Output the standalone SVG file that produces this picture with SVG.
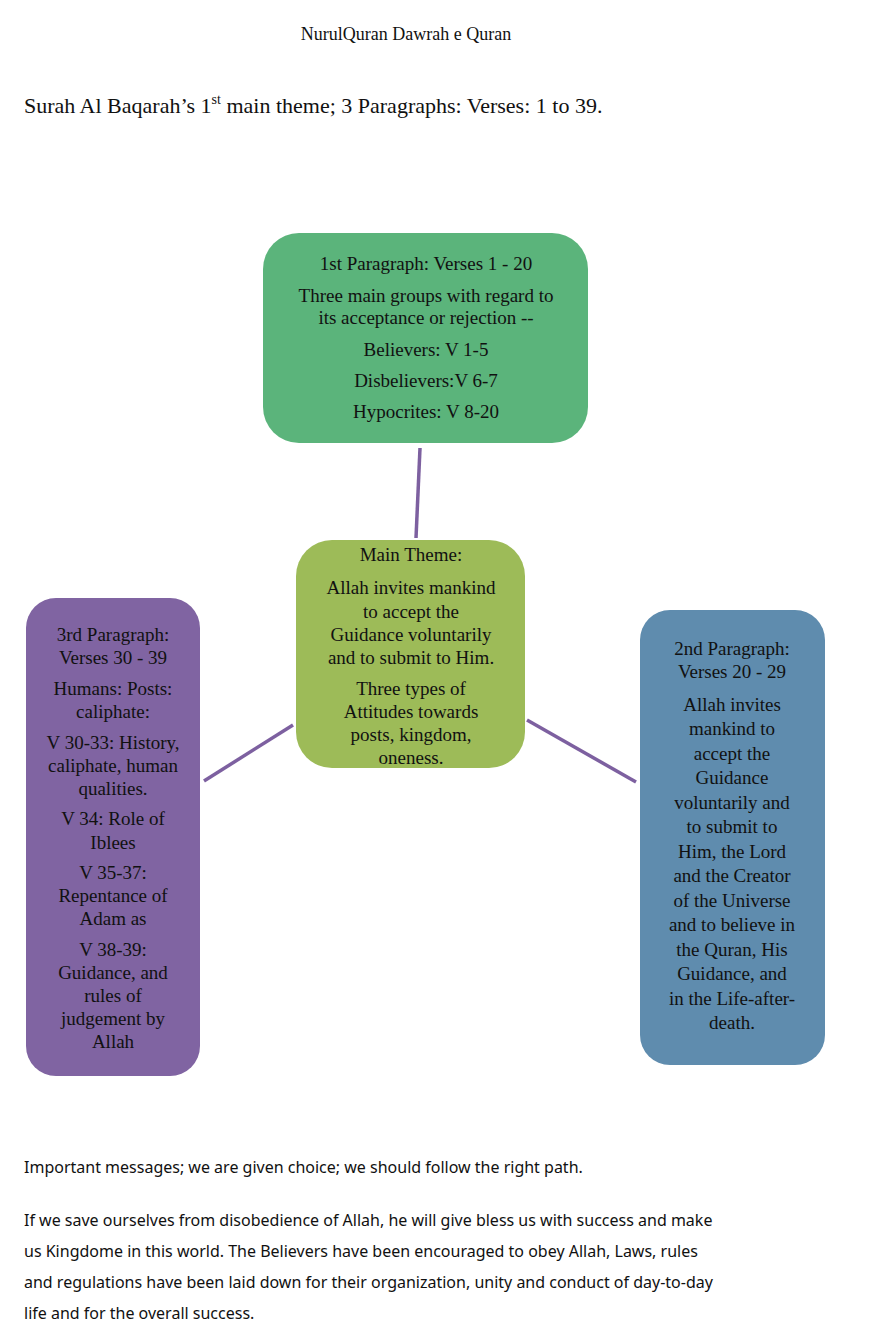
<svg xmlns="http://www.w3.org/2000/svg" width="875" height="1340" viewBox="0 0 875 1340">
<style>
.s{font-family:"Liberation Serif",serif;fill:#111}
.b{font-family:"Liberation Serif",serif;font-size:19px;fill:#111;text-anchor:middle}
.p{font-family:"Noto Sans","Liberation Sans",sans-serif;font-size:16px;fill:#111}
.c{stroke:#7d60a0;stroke-width:3.5;fill:none}
</style>
<rect width="875" height="1340" fill="#fff"/>
<text class="s" x="406" y="40" font-size="18" text-anchor="middle">NurulQuran Dawrah e Quran</text>
<text class="s" x="24" y="113" font-size="22">Surah Al Baqarah’s 1<tspan font-size="14" dy="-9">st</tspan><tspan dy="9"> main theme;  3 Paragraphs:    Verses: 1 to 39.</tspan></text>
<g id="connectors">
<line class="c" x1="420" y1="448" x2="416" y2="538"/>
<line class="c" x1="293" y1="725" x2="204" y2="781"/>
<line class="c" x1="527" y1="720" x2="636" y2="782"/>
</g>
<g id="p1">
<rect x="263" y="233" width="325" height="210" rx="36" fill="#5bb47b"/>
<text class="b" x="426" y="270">1st Paragraph: Verses 1 - 20</text>
<text class="b" x="426" y="302">Three main groups with regard to</text>
<text class="b" x="426" y="324">its acceptance or rejection --</text>
<text class="b" x="426" y="356">Believers: V 1-5</text>
<text class="b" x="426" y="387">Disbelievers:V 6-7</text>
<text class="b" x="426" y="418">Hypocrites: V 8-20</text>
</g>
<g id="main">
<rect x="296" y="540" width="229" height="228" rx="36" fill="#9dbb58"/>
<text class="b" x="411" y="561" font-size="23">Main Theme:</text>
<text class="b" x="411" y="594">Allah invites mankind</text>
<text class="b" x="411" y="618">to accept the</text>
<text class="b" x="411" y="641">Guidance voluntarily</text>
<text class="b" x="411" y="664">and to submit to Him.</text>
<text class="b" x="411" y="695">Three types of</text>
<text class="b" x="411" y="718">Attitudes towards</text>
<text class="b" x="411" y="741">posts, kingdom,</text>
<text class="b" x="411" y="764">oneness.</text>
</g>
<g id="p3">
<rect x="26" y="598" width="174" height="478" rx="30" fill="#8064a2"/>
<text class="b" x="113" y="641">3rd Paragraph:</text>
<text class="b" x="113" y="664">Verses 30 - 39</text>
<text class="b" x="113" y="695">Humans: Posts:</text>
<text class="b" x="113" y="718">caliphate:</text>
<text class="b" x="113" y="749">V 30-33: History,</text>
<text class="b" x="113" y="772">caliphate, human</text>
<text class="b" x="113" y="795">qualities.</text>
<text class="b" x="113" y="825">V 34: Role of</text>
<text class="b" x="113" y="849">Iblees</text>
<text class="b" x="113" y="879">V 35-37:</text>
<text class="b" x="113" y="902">Repentance of</text>
<text class="b" x="113" y="925">Adam as</text>
<text class="b" x="113" y="956">V 38-39:</text>
<text class="b" x="113" y="979">Guidance, and</text>
<text class="b" x="113" y="1002">rules of</text>
<text class="b" x="113" y="1025">judgement by</text>
<text class="b" x="113" y="1048">Allah</text>
</g>
<g id="p2">
<rect x="640" y="610" width="185" height="455" rx="30" fill="#5f8cae"/>
<text class="b" x="732" y="655">2nd Paragraph:</text>
<text class="b" x="732" y="678">Verses 20 - 29</text>
<text class="b" x="732" y="711" font-size="20">Allah invites</text>
<text class="b" x="732" y="735" font-size="20">mankind to</text>
<text class="b" x="732" y="760" font-size="20">accept the</text>
<text class="b" x="732" y="784" font-size="20">Guidance</text>
<text class="b" x="732" y="809" font-size="20">voluntarily and</text>
<text class="b" x="732" y="833" font-size="20">to submit to</text>
<text class="b" x="732" y="858" font-size="20">Him, the Lord</text>
<text class="b" x="732" y="882" font-size="20">and the Creator</text>
<text class="b" x="732" y="907" font-size="20">of the Universe</text>
<text class="b" x="732" y="931" font-size="20">and to believe in</text>
<text class="b" x="732" y="956" font-size="20">the Quran, His</text>
<text class="b" x="732" y="980" font-size="20">Guidance, and</text>
<text class="b" x="732" y="1005" font-size="20">in the Life-after-</text>
<text class="b" x="732" y="1029" font-size="20">death.</text>
</g>
<text class="p" x="24" y="1173">Important messages; we are given choice; we should follow the right path.</text>
<text class="p" x="24" y="1226">If we save ourselves from disobedience of Allah, he will give bless us with success and make</text>
<text class="p" x="24" y="1257">us Kingdome in this world. The Believers have been encouraged to obey Allah, Laws, rules</text>
<text class="p" x="24" y="1288">and regulations have been laid down for their organization, unity and conduct of day-to-day</text>
<text class="p" x="24" y="1319">life and for the overall success.</text>
</svg>
